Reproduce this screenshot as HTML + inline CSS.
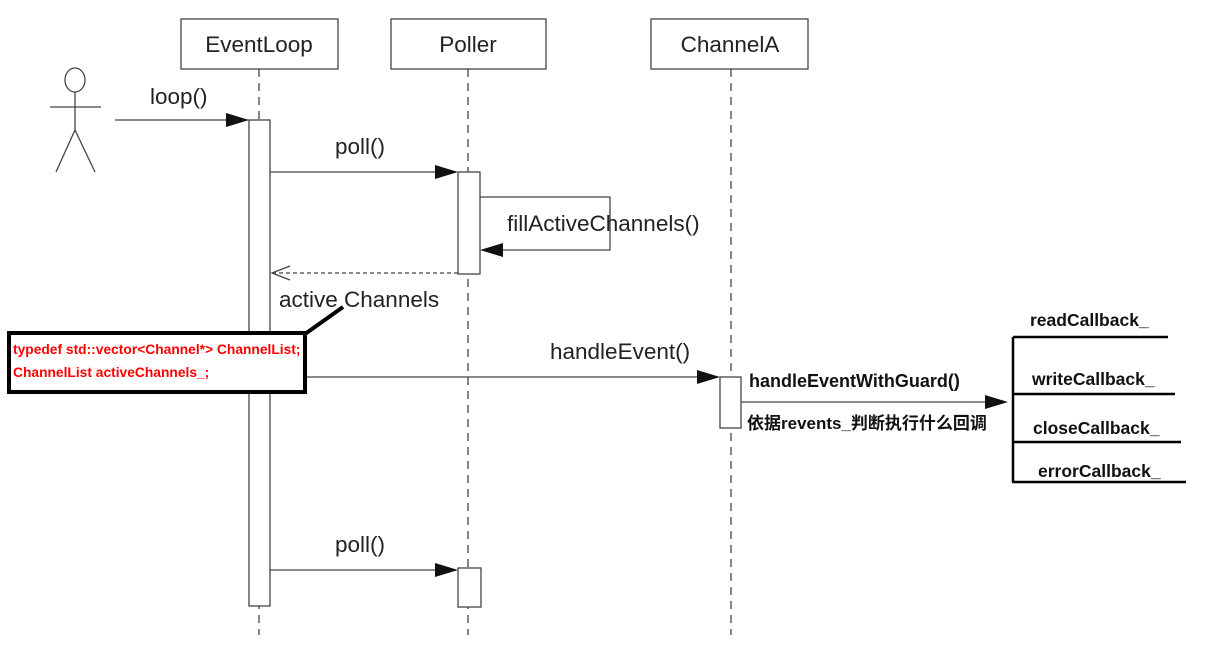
<!DOCTYPE html>
<html><head><meta charset="utf-8"><style>
html,body{margin:0;padding:0;background:#fff;}
svg{display:block;}
.t{font-family:"Liberation Sans","Noto Sans CJK SC",sans-serif;fill:#222;}
.b{font-family:"Liberation Sans","Noto Sans CJK SC",sans-serif;font-weight:bold;fill:#111;}
.r{font-family:"Liberation Sans",sans-serif;font-weight:bold;fill:#f00;font-size:13.8px;}
</style></head><body>
<svg width="1209" height="660" viewBox="0 0 1209 660" xmlns="http://www.w3.org/2000/svg">
<g stroke="#444" stroke-width="1.3" fill="none">
<rect x="181" y="19" width="157" height="50" fill="#fff"/>
<rect x="391" y="19" width="155" height="50" fill="#fff"/>
<rect x="651" y="19" width="157" height="50" fill="#fff"/>
<line x1="259" y1="69" x2="259" y2="635" stroke-dasharray="8,6"/>
<line x1="468" y1="69" x2="468" y2="635" stroke-dasharray="8,6"/>
<line x1="731" y1="69" x2="731" y2="635" stroke-dasharray="8,6"/>
<ellipse cx="75" cy="80" rx="10" ry="12"/>
<line x1="75" y1="92" x2="75" y2="130"/>
<line x1="50" y1="107" x2="101" y2="107"/>
<line x1="75" y1="130" x2="56" y2="172"/>
<line x1="75" y1="130" x2="95" y2="172"/>
<line x1="115" y1="120" x2="248" y2="120"/>
<rect x="249" y="120" width="21" height="486" fill="#fff"/>
<line x1="270" y1="172" x2="456" y2="172"/>
<rect x="458" y="172" width="22" height="102" fill="#fff"/>
<polyline points="480,197 610,197 610,250 484,250"/>
<line x1="458" y1="273" x2="272" y2="273" stroke-dasharray="4,3"/>
<polyline points="290,266 272,273 290,280"/>
<line x1="270" y1="377" x2="718" y2="377"/>
<rect x="720" y="377" width="21" height="51" fill="#fff"/>
<line x1="741" y1="402" x2="990" y2="402"/>
<line x1="270" y1="570" x2="456" y2="570"/>
<rect x="458" y="568" width="23" height="39" fill="#fff"/>
</g>
<g fill="#111">
<polygon points="226,113 249,120 226,127"/>
<polygon points="435,165 458,172 435,179"/>
<polygon points="503,243 480,250 503,257"/>
<polygon points="697,370 720,377 697,384"/>
<polygon points="985,395 1008,402 985,409"/>
<polygon points="435,563 458,570 435,577"/>
</g>
<g class="t" font-size="22.5">
<text x="259" y="52" text-anchor="middle">EventLoop</text>
<text x="468" y="52" text-anchor="middle">Poller</text>
<text x="730" y="52" text-anchor="middle">ChannelA</text>
<text x="150" y="104">loop()</text>
<text x="335" y="154">poll()</text>
<text x="507" y="231">fillActiveChannels()</text>
<text x="279" y="307">active Channels</text>
<text x="550" y="359">handleEvent()</text>
<text x="335" y="552">poll()</text>
</g>
<line x1="305" y1="334" x2="343" y2="307" stroke="#000" stroke-width="4"/>
<rect x="9" y="333" width="296" height="59" fill="#fff" stroke="#000" stroke-width="4"/>
<text class="r" x="13" y="354">typedef std::vector&lt;Channel*&gt;  ChannelList;</text>
<text class="r" x="13" y="377">ChannelList activeChannels_;</text>
<g class="b" font-size="17.5">
<text x="749" y="387" font-size="18">handleEventWithGuard()</text>
<text x="747" y="429" font-size="17">依据revents_判断执行什么回调</text>
<text x="1030" y="326">readCallback_</text>
<text x="1032" y="385">writeCallback_</text>
<text x="1033" y="434">closeCallback_</text>
<text x="1038" y="477">errorCallback_</text>
</g>
<g stroke="#000" stroke-width="2.5">
<line x1="1013" y1="337" x2="1013" y2="482"/>
<line x1="1013" y1="337" x2="1168" y2="337"/>
<line x1="1013" y1="394" x2="1175" y2="394"/>
<line x1="1012" y1="442" x2="1181" y2="442"/>
<line x1="1012" y1="482" x2="1186" y2="482"/>
</g>
<text class="t" x="533" y="682" font-size="26">图 2-1</text>
</svg>
</body></html>
